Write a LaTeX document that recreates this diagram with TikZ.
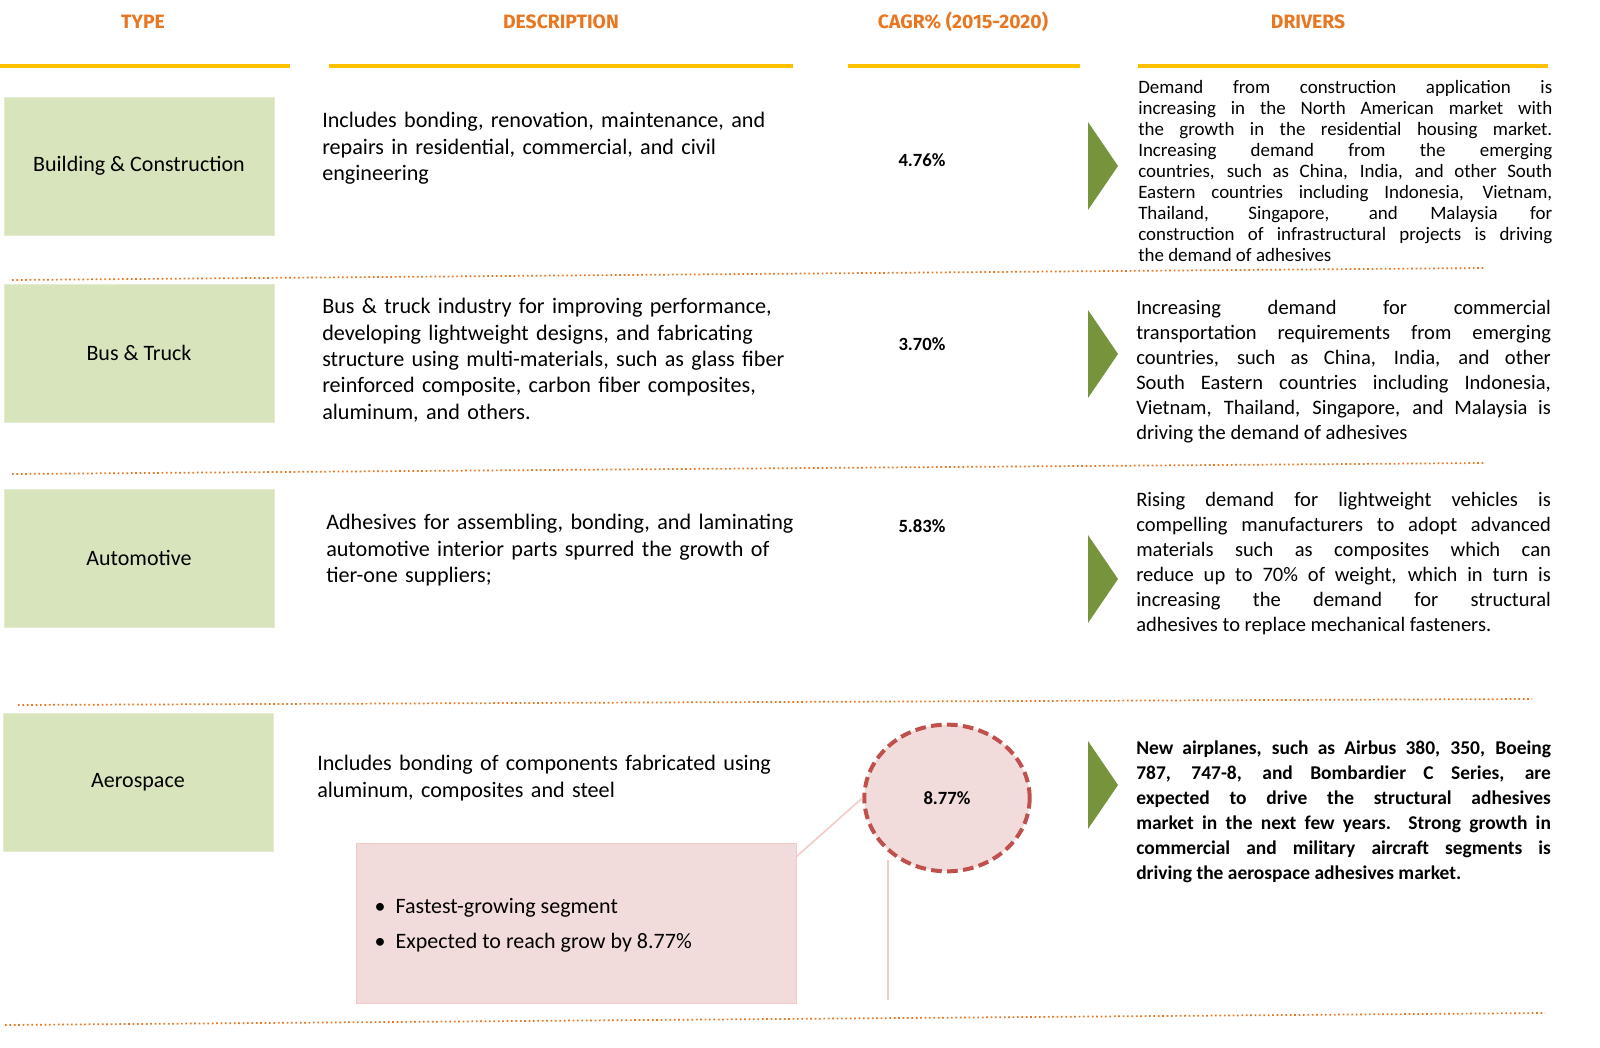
\documentclass[tikz,border=0pt]{standalone}
\usepackage{fontspec}
\setmainfont{Carlito}
\newfontfamily\hdfont{Fira Sans}
\usetikzlibrary{shapes.geometric}
\definecolor{hd}{HTML}{E87722}
\definecolor{yl}{HTML}{FFC000}
\definecolor{gb}{HTML}{D8E4BC}
\definecolor{tri}{HTML}{77933C}
\definecolor{pk}{HTML}{F2DCDB}
\definecolor{rd}{HTML}{C0504D}
\definecolor{pl}{HTML}{F4C9C8}
\tikzset{
 hdr/.style={font=\hdfont\bfseries\fontsize{14.5}{16}\selectfont, text=hd},
 yline/.style={yl, line width=3pt},
 sep/.style={hd, dotted, line width=1.3pt},
 typebox/.style={fill=gb, draw=gb!70!white, minimum width=202.5pt, minimum height=103.5pt, font=\fontsize{16.5}{18}\selectfont},
 desc/.style={anchor=north west, inner sep=0, text width=380pt, align=left, font=\fontsize{16.6}{19.8}\selectfont},
 cagr/.style={font=\bfseries\fontsize{14}{15}\selectfont},
 drv/.style={anchor=north west, inner sep=0, text width=311pt, align=justify, font=\fontsize{15.4}{18.75}\selectfont},
}
\begin{document}
\begin{tikzpicture}[x=0.75pt,y=-0.75pt]
\useasboundingbox (0,0) rectangle (1600,1048);
% headers
\node[hdr] (h1) at (143,22) {TYPE};
\node[hdr] (h2) at (561,22) {DESCRIPTION};
\node[hdr] (h3) at (963,22) {CAGR\% (2015-2020)};
\node[hdr] (h4) at (1308,22) {DRIVERS};
\draw[yline] (0,66) -- (290,66);
\draw[yline] (329,66) -- (793,66);
\draw[yline] (848,66) -- (1080,66);
\draw[yline] (1138,66) -- (1548,66);
% separators
\draw[sep] (12,280) -- (1484,268);
\draw[sep] (12,474) -- (1484,463);
\draw[sep] (18,705) -- (1532,699);
\draw[sep] (5,1025) -- (1545,1013);
% type boxes
\node[typebox] (t1) at (139,166) {Building \& Construction};
\node[typebox] (t2) at (139,353) {Bus \& Truck};
\node[typebox] (t3) at (139,558) {Automotive};
\node[typebox] (t4) at (138,782) {Aerospace};
% descriptions
\node[desc] (d1) at (322,112) {Includes bonding, renovation, maintenance, and\\repairs in residential, commercial, and civil\\engineering};
\node[desc] (d2) at (322,298) {Bus \& truck industry for improving performance,\\developing lightweight designs, and fabricating\\structure using multi-materials, such as glass fiber\\reinforced composite, carbon fiber composites,\\aluminum, and others.};
\node[desc] (d3) at (326,514) {Adhesives for assembling, bonding, and laminating\\automotive interior parts spurred the growth of\\tier-one suppliers;};
\node[desc] (d4) at (317,755) {Includes bonding of components fabricated using\\aluminum, composites and steel};
% cagr
\node[cagr] (c1) at (922,160) {4.76\%};
\node[cagr] (c2) at (922,344) {3.70\%};
\node[cagr] (c3) at (922,526) {5.83\%};
% callout
\node[draw=pl, fill=pk, line width=1pt, minimum width=330pt, minimum height=120pt, anchor=north west] (cb) at (356,843) {};
\coordinate (vtop) at (888,860);
\coordinate (vbot) at (888,1000);
\draw[pl, line width=1.2pt] (vtop) -- (vbot);
\node[ellipse, draw=rd, fill=pk, dash pattern=on 8pt off 4pt, line width=3pt, minimum width=124pt, minimum height=110pt, cagr] (c4) at (947,798) {8.77\%};
\coordinate (cbt) at (796,857);
\draw[pl, line width=1.2pt] (cbt) -- (c4.west);
\node[anchor=west, align=left, font=\fontsize{16.5}{26}\selectfont] (bl) at (370,925) {\textbullet\ \ Fastest-growing segment\\\textbullet\ \ Expected to reach grow by 8.77\%};
% triangles
\foreach \yc in {166,354,579,785}{
 \fill[tri] (1088,\yc-44) -- (1118,\yc) -- (1088,\yc+44) -- cycle;
}
% drivers
\node[drv, font=\fontsize{14.2}{15.8}\selectfont, text width=310.5pt] (r1) at (1138,80) {Demand from construction application is\linebreak increasing in the North American market with\linebreak the growth in the residential housing market.\linebreak Increasing demand from the emerging\linebreak countries, such as China, India, and other South\linebreak Eastern countries including Indonesia, Vietnam,\linebreak Thailand, Singapore, and Malaysia for\linebreak construction of infrastructural projects is driving\linebreak the demand of adhesives};
\node[drv] (r2) at (1136,300) {Increasing demand for commercial\linebreak transportation requirements from emerging\linebreak countries, such as China, India, and other\linebreak South Eastern countries including Indonesia,\linebreak Vietnam, Thailand, Singapore, and Malaysia is\linebreak driving the demand of adhesives};
\node[drv] (r3) at (1136,492) {Rising demand for lightweight vehicles is\linebreak compelling manufacturers to adopt advanced\linebreak materials such as composites which can\linebreak reduce up to 70\% of weight, which in turn is\linebreak increasing the demand for structural\linebreak adhesives to replace mechanical fasteners.};
\node[drv, font=\bfseries\fontsize{14.6}{18.75}\selectfont] (r4) at (1136,741) {New airplanes, such as Airbus 380, 350, Boeing\linebreak 787, 747-8, and Bombardier C Series, are\linebreak expected to drive the structural adhesives\linebreak market in the next few years. Strong growth in\linebreak commercial and military aircraft segments is\linebreak driving the aerospace adhesives market.};
\end{tikzpicture}
\end{document}
